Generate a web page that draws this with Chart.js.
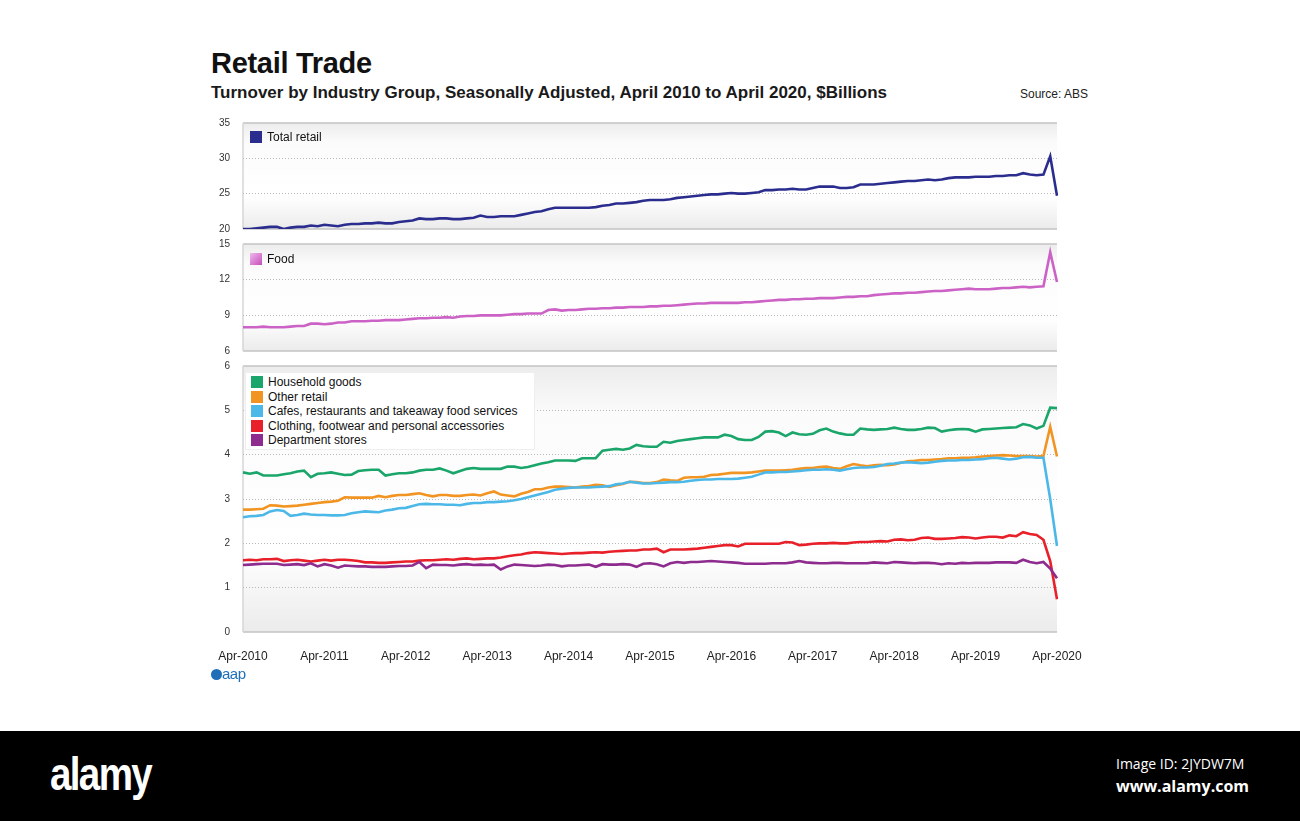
<!DOCTYPE html>
<html>
<head>
<meta charset="utf-8">
<script src="https://cdn.jsdelivr.net/npm/chart.js@4.4.0/dist/chart.umd.min.js"></script>
<style>
  body { margin: 0; background: #fff; font-family: "Liberation Sans", Arial, sans-serif; }
  #page { position: relative; width: 1300px; height: 821px; overflow: hidden; background: #fff; }
  .abs { position: absolute; }
  .title { left: 211px; top: 47px; font-size: 29px; font-weight: bold; color: #111; letter-spacing: -0.3px; }
  .sub { left: 211px; top: 83px; font-size: 17px; font-weight: bold; color: #1a1a1a; }
  .src { left: 1020px; top: 87px; font-size: 12px; color: #222; }
  .leg { font-size: 12px; color: #111; line-height: 14.6px; }
  .leg div { position: relative; padding-left: 22px; white-space: nowrap; }
  .leg span { position: absolute; left: 5px; top: 1px; width: 12px; height: 12px; }
  .band { left: 0; top: 731px; width: 1300px; height: 90px; background: #000; color: #fff; }
  canvas { position: absolute; }
</style>
</head>
<body>
<div id="page">
  <div class="abs title">Retail Trade</div>
  <div class="abs sub">Turnover by Industry Group, Seasonally Adjusted, April 2010 to April 2020, $Billions</div>
  <div class="abs src">Source: ABS</div>

  <canvas id="c1" width="900" height="144" style="left:200px;top:104px"></canvas>
  <canvas id="c2" width="900" height="145" style="left:200px;top:225px"></canvas>
  <canvas id="c3" width="900" height="320" style="left:200px;top:347px"></canvas>

  <div class="abs leg" style="left:245px;top:130px">
    <div><span style="background:#2b2d8e"></span>Total retail</div>
  </div>
  <div class="abs leg" style="left:245px;top:252px">
    <div><span style="background:linear-gradient(135deg,#f0b8ea,#c44fbc)"></span>Food</div>
  </div>
  <div class="abs leg" style="left:245px;top:372px;width:288px;height:76px;background:#fff;border:1px solid #eee">
    <div style="margin-top:2px"><span style="background:#1aa66a"></span>Household goods</div>
    <div><span style="background:#f29422"></span>Other retail</div>
    <div><span style="background:#4cb8e8"></span>Cafes, restaurants and takeaway food services</div>
    <div><span style="background:#e8202a"></span>Clothing, footwear and personal accessories</div>
    <div><span style="background:#8e2b8e"></span>Department stores</div>
  </div>

  <div class="abs" style="left:211px;top:665px;color:#1f6fb8;font-size:15px;letter-spacing:-0.5px">
    <span style="display:inline-block;width:11px;height:11px;border-radius:50%;background:#1f6fb8;vertical-align:-1px"></span>aap
  </div>

  <div class="abs band">
    <div class="abs" style="left:50px;top:15px;font-size:47px;font-weight:bold;letter-spacing:-2px;transform:scaleX(0.82);transform-origin:left top">alamy</div>
    <div class="abs" style="left:1116px;top:23px;font-size:14px;font-family:'Open Sans',sans-serif">Image ID: 2JYDW7M</div>
    <div class="abs" style="left:1116px;top:44px;font-size:16px;font-weight:bold;font-family:'Open Sans',sans-serif">www.alamy.com</div>
  </div>
</div>

<script>
// monthly, Apr-2010 .. Apr-2020
const monthNames = ["Jan","Feb","Mar","Apr","May","Jun","Jul","Aug","Sep","Oct","Nov","Dec"];
const months = [];
for (let i = 0; i < 121; i++) {
    const m = (3 + i) % 12;
    const y = 2010 + Math.floor((3 + i) / 12);
    months.push(monthNames[m] + "-" + y);
}

const totalRetail = [
    20.0, 20.0, 20.1, 20.2, 20.3, 20.3, 20.0, 20.2, 20.3, 20.3, 20.5, 20.4,
    20.6, 20.5, 20.4, 20.6, 20.7, 20.7, 20.8, 20.8, 20.9, 20.8, 20.8, 21.0,
    21.1, 21.2, 21.5, 21.4, 21.4, 21.5, 21.5, 21.4, 21.4, 21.5, 21.6, 21.9,
    21.7, 21.7, 21.8, 21.8, 21.8, 22.0, 22.2, 22.4, 22.5, 22.8, 23.0, 23.0,
    23.0, 23.0, 23.0, 23.0, 23.1, 23.3, 23.4, 23.6, 23.6, 23.7, 23.8, 24.0,
    24.1, 24.1, 24.1, 24.2, 24.4, 24.5, 24.6, 24.7, 24.8, 24.9, 24.9, 25.0,
    25.1, 25.0, 25.0, 25.1, 25.2, 25.5, 25.5, 25.6, 25.6, 25.7, 25.6, 25.6,
    25.8, 26.0, 26.0, 26.0, 25.8, 25.8, 25.9, 26.3, 26.3, 26.3, 26.4, 26.5,
    26.6, 26.7, 26.8, 26.8, 26.9, 27.0, 26.9, 27.0, 27.2, 27.3, 27.3, 27.3,
    27.4, 27.4, 27.4, 27.5, 27.5, 27.6, 27.6, 27.9, 27.7, 27.6, 27.7, 30.3,
    24.7
];

const food = [
    8.0, 8.0, 8.0, 8.05, 8.0, 8.0, 8.0, 8.05, 8.1, 8.1, 8.3, 8.3,
    8.25, 8.3, 8.4, 8.4, 8.5, 8.5, 8.5, 8.55, 8.55, 8.6, 8.6, 8.6,
    8.65, 8.7, 8.75, 8.75, 8.8, 8.8, 8.85, 8.8, 8.9, 8.95, 8.95, 9.0,
    9.0, 9.0, 9.0, 9.05, 9.1, 9.1, 9.15, 9.15, 9.15, 9.45, 9.5, 9.4,
    9.45, 9.45, 9.5, 9.55, 9.55, 9.6, 9.6, 9.65, 9.65, 9.7, 9.7, 9.7,
    9.75, 9.75, 9.8, 9.8, 9.85, 9.9, 9.95, 10.0, 10.0, 10.05, 10.05, 10.05,
    10.05, 10.05, 10.1, 10.1, 10.15, 10.2, 10.25, 10.3, 10.3, 10.35, 10.35, 10.4,
    10.4, 10.45, 10.45, 10.45, 10.5, 10.55, 10.55, 10.6, 10.6, 10.7, 10.75, 10.8,
    10.85, 10.85, 10.9, 10.9, 10.95, 11.0, 11.05, 11.05, 11.1, 11.15, 11.2, 11.25,
    11.2, 11.2, 11.2, 11.25, 11.3, 11.3, 11.35, 11.4, 11.35, 11.4, 11.45, 14.3,
    11.8
];

const household = [
    3.60, 3.57, 3.60, 3.53, 3.53, 3.53, 3.56, 3.58, 3.62, 3.64, 3.49, 3.57,
    3.58, 3.60, 3.57, 3.54, 3.55, 3.63, 3.65, 3.66, 3.66, 3.53, 3.56, 3.58,
    3.58, 3.60, 3.64, 3.66, 3.66, 3.69, 3.64, 3.58, 3.63, 3.68, 3.70, 3.68,
    3.68, 3.68, 3.68, 3.73, 3.73, 3.70, 3.72, 3.76, 3.80, 3.83, 3.87, 3.87,
    3.87, 3.86, 3.92, 3.92, 3.92, 4.09, 4.11, 4.13, 4.11, 4.14, 4.22, 4.19,
    4.18, 4.18, 4.29, 4.27, 4.31, 4.33, 4.35, 4.37, 4.39, 4.39, 4.39, 4.45,
    4.42, 4.35, 4.33, 4.33, 4.40, 4.52, 4.53, 4.50, 4.42, 4.50, 4.46, 4.45,
    4.47, 4.55, 4.59, 4.52, 4.48, 4.45, 4.45, 4.59, 4.57, 4.56, 4.57, 4.58,
    4.61, 4.58, 4.56, 4.56, 4.58, 4.61, 4.60, 4.52, 4.55, 4.57, 4.58, 4.57,
    4.52, 4.57, 4.58, 4.59, 4.60, 4.61, 4.62, 4.69, 4.66, 4.59, 4.65, 5.06,
    5.05
];

const otherRetail = [
    2.76, 2.76, 2.77, 2.78, 2.86, 2.85, 2.83, 2.84, 2.85, 2.87, 2.89, 2.91,
    2.93, 2.94, 2.96, 3.04, 3.03, 3.03, 3.03, 3.03, 3.07, 3.04, 3.07, 3.09,
    3.09, 3.11, 3.13, 3.09, 3.06, 3.09, 3.09, 3.07, 3.07, 3.09, 3.10, 3.08,
    3.13, 3.17, 3.10, 3.08, 3.06, 3.12, 3.16, 3.22, 3.22, 3.26, 3.28, 3.28,
    3.27, 3.26, 3.28, 3.29, 3.32, 3.31, 3.27, 3.31, 3.34, 3.39, 3.38, 3.36,
    3.36, 3.38, 3.44, 3.42, 3.41, 3.48, 3.49, 3.49, 3.50, 3.54, 3.55, 3.57,
    3.59, 3.59, 3.59, 3.60, 3.62, 3.64, 3.64, 3.64, 3.65, 3.66, 3.68, 3.70,
    3.70, 3.72, 3.73, 3.70, 3.68, 3.74, 3.79, 3.76, 3.74, 3.76, 3.77, 3.76,
    3.78, 3.82, 3.85, 3.86, 3.88, 3.88, 3.89, 3.90, 3.92, 3.92, 3.93, 3.93,
    3.94, 3.96, 3.97, 3.98, 3.99, 3.98, 3.97, 3.97, 3.97, 3.96, 3.97, 4.63,
    3.96
];

const cafes = [
    2.59, 2.61, 2.62, 2.64, 2.72, 2.75, 2.73, 2.62, 2.64, 2.67, 2.65, 2.64,
    2.64, 2.63, 2.63, 2.64, 2.68, 2.70, 2.72, 2.71, 2.70, 2.74, 2.76, 2.79,
    2.80, 2.84, 2.88, 2.89, 2.88, 2.88, 2.87, 2.87, 2.86, 2.89, 2.91, 2.91,
    2.93, 2.93, 2.94, 2.95, 2.97, 3.00, 3.04, 3.08, 3.12, 3.16, 3.21, 3.23,
    3.25, 3.26, 3.26, 3.26, 3.27, 3.28, 3.29, 3.33, 3.35, 3.39, 3.37, 3.35,
    3.35, 3.36, 3.37, 3.38, 3.38, 3.39, 3.41, 3.43, 3.44, 3.44, 3.45, 3.45,
    3.45, 3.46, 3.48, 3.50, 3.55, 3.60, 3.60, 3.61, 3.61, 3.62, 3.63, 3.65,
    3.66, 3.66, 3.67, 3.66, 3.64, 3.67, 3.70, 3.71, 3.71, 3.72, 3.75, 3.79,
    3.80, 3.82, 3.83, 3.82, 3.81, 3.82, 3.84, 3.86, 3.87, 3.87, 3.88, 3.88,
    3.89, 3.90, 3.92, 3.93, 3.91, 3.89, 3.91, 3.94, 3.95, 3.93, 3.93, 3.00,
    1.94
];

const clothing = [
    1.62, 1.63, 1.62, 1.64, 1.64, 1.65, 1.60, 1.62, 1.63, 1.61, 1.59, 1.61,
    1.63, 1.61, 1.63, 1.63, 1.62, 1.60, 1.57, 1.57, 1.56, 1.56, 1.57, 1.58,
    1.59, 1.59, 1.61, 1.62, 1.62, 1.63, 1.64, 1.63, 1.65, 1.66, 1.64, 1.65,
    1.66, 1.66, 1.68, 1.71, 1.73, 1.75, 1.78, 1.80, 1.79, 1.78, 1.77, 1.76,
    1.77, 1.78, 1.78, 1.79, 1.80, 1.79, 1.81, 1.82, 1.83, 1.84, 1.84, 1.86,
    1.86, 1.88, 1.80, 1.86, 1.86, 1.86, 1.87, 1.88, 1.90, 1.92, 1.94, 1.96,
    1.96, 1.93, 1.99, 1.99, 1.99, 1.99, 1.99, 1.99, 2.03, 2.02, 1.96, 1.97,
    1.99, 2.00, 2.00, 2.01, 2.00, 2.00, 2.02, 2.03, 2.03, 2.04, 2.05, 2.04,
    2.08, 2.09, 2.07, 2.08, 2.12, 2.13, 2.10, 2.10, 2.11, 2.12, 2.14, 2.13,
    2.11, 2.13, 2.15, 2.15, 2.13, 2.18, 2.16, 2.25, 2.21, 2.19, 2.08, 1.60,
    0.74
];

const deptStores = [
    1.51, 1.52, 1.53, 1.54, 1.54, 1.54, 1.51, 1.52, 1.53, 1.51, 1.55, 1.48,
    1.53, 1.50, 1.45, 1.50, 1.49, 1.48, 1.48, 1.47, 1.47, 1.47, 1.48, 1.49,
    1.49, 1.50, 1.58, 1.44, 1.52, 1.51, 1.51, 1.50, 1.52, 1.53, 1.51, 1.52,
    1.51, 1.52, 1.41, 1.48, 1.52, 1.51, 1.50, 1.49, 1.50, 1.52, 1.51, 1.48,
    1.50, 1.50, 1.51, 1.52, 1.47, 1.53, 1.52, 1.52, 1.53, 1.52, 1.47, 1.54,
    1.55, 1.53, 1.48, 1.55, 1.58, 1.56, 1.58, 1.58, 1.59, 1.60, 1.59, 1.58,
    1.57, 1.56, 1.54, 1.54, 1.54, 1.54, 1.55, 1.55, 1.55, 1.57, 1.60, 1.57,
    1.56, 1.55, 1.55, 1.56, 1.56, 1.55, 1.55, 1.55, 1.55, 1.57, 1.56, 1.55,
    1.58, 1.57, 1.56, 1.55, 1.56, 1.56, 1.55, 1.53, 1.55, 1.54, 1.56, 1.55,
    1.56, 1.56, 1.56, 1.57, 1.57, 1.57, 1.56, 1.63, 1.58, 1.55, 1.58, 1.43,
    1.21
];

////////////////////////////////////////////////////////////////////////////////////

// grey-white-grey panel fill plus the thin frame lines
const panelBg = {
    id: "panelBg",
    beforeDraw(chart) {
        const { ctx, chartArea: a } = chart;
        const g = ctx.createLinearGradient(0, a.top, 0, a.bottom);
        g.addColorStop(0, "#ececec");
        g.addColorStop(0.18, "#fbfbfb");
        g.addColorStop(0.7, "#ffffff");
        g.addColorStop(1, "#ebebeb");
        ctx.save();
        ctx.fillStyle = g;
        ctx.fillRect(a.left, a.top, a.right - a.left, a.bottom - a.top);
        ctx.lineWidth = 1.5;
        ctx.strokeStyle = "#c4c4c4";
        ctx.beginPath();
        ctx.moveTo(a.left, a.top); ctx.lineTo(a.right, a.top);
        ctx.moveTo(a.left, a.bottom); ctx.lineTo(a.right, a.bottom);
        ctx.stroke();
        ctx.strokeStyle = "#d6d6d6";
        ctx.beginPath();
        ctx.moveTo(a.left, a.top); ctx.lineTo(a.left, a.bottom);
        ctx.stroke();
        ctx.restore();
    }
};

function line(data, color) {
    return { data: data, borderColor: color, borderWidth: 2.6, pointRadius: 0, tension: 0, fill: false };
}

// canvas is 900 wide starting at x=200: y axis 43px -> plot starts at 243, right padding 43 -> ends at 1057
// the y ticks add ~18px above and below the plot area by themselves
function makePanel(id, datasets, min, max, step, showX) {
    return new Chart(document.getElementById(id), {
        type: "line",
        data: { labels: months, datasets: datasets },
        plugins: [panelBg],
        options: {
            animation: false,
            responsive: false,
            layout: { padding: { left: 0, right: 43, top: 0, bottom: 0 } },
            plugins: { legend: { display: false }, tooltip: { enabled: false } },
            scales: {
                x: {
                    display: showX,
                    offset: false,
                    grid: { display: false },
                    border: { display: false },
                    ticks: {
                        autoSkip: false,
                        maxRotation: 0,
                        padding: 9,
                        color: "#222",
                        font: { family: "Liberation Sans", size: 12 },
                        callback: function (v, i) { return i % 12 === 0 ? months[i] : null; }
                    },
                    afterFit: function (s) { s.height = showX ? 35 : 0; }
                },
                y: {
                    min: min,
                    max: max,
                    grid: {
                        drawTicks: false,
                        lineWidth: 1,
                        color: function (c) {
                            return (c.tick.value === min || c.tick.value === max) ? "rgba(0,0,0,0)" : "#b8b8b8";
                        }
                    },
                    border: { display: false, dash: [1, 2] },
                    ticks: {
                        stepSize: step,
                        padding: 13,
                        color: "#333",
                        font: { family: "Liberation Sans", size: 10 }
                    },
                    afterFit: function (s) { s.width = 43; }
                }
            }
        }
    });
}

const topChart = makePanel("c1", [line(totalRetail, "#2b2d8e")], 20, 35, 5, false);
const foodChart = makePanel("c2", [line(food, "#cc62c6")], 6, 15, 3, false);
const groupChart = makePanel("c3", [
    line(deptStores, "#8e2b8e"),
    line(clothing, "#e8202a"),
    line(cafes, "#4cb8e8"),
    line(otherRetail, "#f29422"),
    line(household, "#1aa66a")
], 0, 6, 1, true);
</script>
</body>
</html>
